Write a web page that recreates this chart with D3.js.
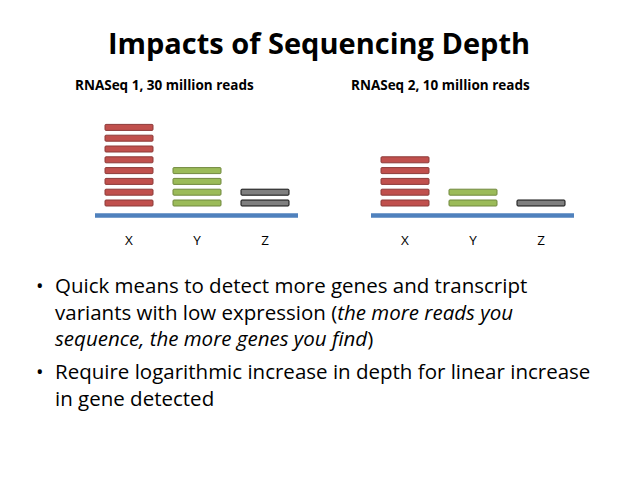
<!DOCTYPE html>
<html>
<head>
<meta charset="UTF-8">
<script src="https://d3js.org/d3.v7.min.js"></script>
<style>
body{margin:0;background:#fff;font-family:"Open Sans",sans-serif}
</style>
</head>
<body>
<svg id="chart" width="638" height="479"></svg>
<script>
// data
let genes = ["X", "Y", "Z"]
let reads1 = [8, 4, 2]
let reads2 = [5, 2, 1]
let titles = ["RNASeq 1, 30 million reads", "RNASeq 2, 10 million reads"]
let fills = ["#c0504d", "#9bbb59", "#7f7f7f"]
let strokes = ["#8c3a38", "#71893f", "#111"]

var svg = d3.select("#chart")
svg.append("text").attr("x", 319).attr("y", 54).attr("text-anchor", "middle")
  .attr("font-size", 29).attr("font-weight", "bold").text("Impacts of Sequencing Depth")

function panel(x0, vals, title){
  var g = svg.append("g")
  g.append("text").attr("x", x0 - 30).attr("y", 90).attr("font-size", 13.5)
    .attr("font-weight", "bold").text(title)
  var x = d3.scaleBand().domain(genes).range([x0, x0 + 184]).paddingInner(0.294).paddingOuter(0)
  var y = d3.scaleLinear().domain([0, 1]).range([200, 189.2])
  genes.forEach(function(gn, i){
    g.selectAll(".b" + i).data(d3.range(vals[i])).enter().append("rect")
      .attr("x", x(gn)).attr("y", d => y(d)).attr("width", x.bandwidth()).attr("height", 6)
      .attr("rx", 1).attr("fill", fills[i]).attr("stroke", strokes[i]).attr("stroke-width", 1)
    g.append("text").attr("x", x(gn) + x.bandwidth() / 2).attr("y", 245)
      .attr("text-anchor", "middle").attr("font-size", 13.5).text(gn)
  })
  g.append("line").attr("x1", x0 - 10).attr("x2", x0 + 193).attr("y1", 215.5).attr("y2", 215.5)
    .attr("stroke", "#4f81bd").attr("stroke-width", 4.5)
}
panel(105, reads1, titles[0])
panel(381, reads2, titles[1])

var lines = [
  [{t: "Quick means to detect more genes and transcript"}],
  [{t: "variants with low expression ("}, {t: "the more reads you", i: 1}],
  [{t: "sequence, the more genes you find", i: 1}, {t: ")"}],
  [{t: "Require logarithmic increase in depth for linear increase"}],
  [{t: "in gene detected"}]
]
var ys = [293, 320, 346, 379, 406]
var bullets = [0, 3]
lines.forEach(function(l, k){
  if (bullets.includes(k)) svg.append("text").attr("x", 36).attr("y", ys[k]).attr("font-size", 20).text("•")
  var t = svg.append("text").attr("x", 55).attr("y", ys[k]).attr("font-size", 20.5)
  l.forEach(s => t.append("tspan").attr("font-style", s.i ? "italic" : "normal").text(s.t))
})
</script>
</body>
</html>
